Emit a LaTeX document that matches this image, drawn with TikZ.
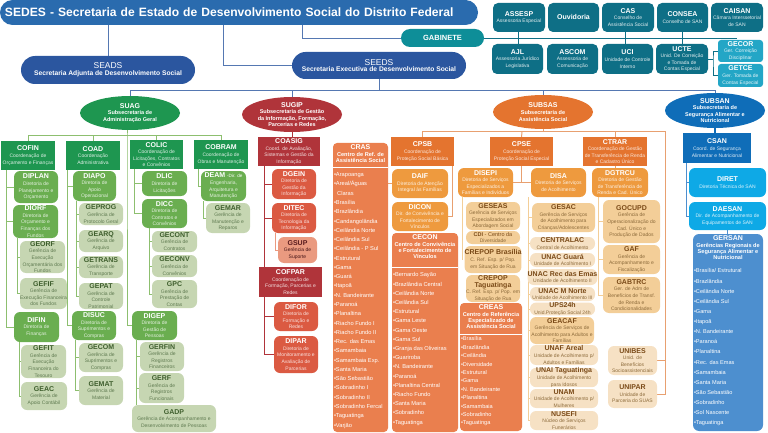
\documentclass[tikz,border=0pt]{standalone}
\usepackage{fontspec}
\setmainfont{Liberation Sans}
\usetikzlibrary{shapes.geometric,backgrounds}
\definecolor{cTitle}{HTML}{2A6BAE}
\definecolor{cSeads}{HTML}{2B569F}
\definecolor{cTeal}{HTML}{0E6F86}
\definecolor{cGab}{HTML}{0E8E98}
\definecolor{cLTeal}{HTML}{23A6C6}
\definecolor{cG1}{HTML}{1E9650}
\definecolor{cG2}{HTML}{6AAE50}
\definecolor{cG3}{HTML}{C6D6B2}
\definecolor{cGt}{HTML}{5F7A50}
\definecolor{cGh}{HTML}{3E5E2D}
\definecolor{cGl}{HTML}{8DBF6F}
\definecolor{cR1}{HTML}{B0343A}
\definecolor{cR2}{HTML}{DB5A42}
\definecolor{cR3}{HTML}{EA9A80}
\definecolor{cO1}{HTML}{E4742F}
\definecolor{cO2}{HTML}{EE9A3E}
\definecolor{cO3}{HTML}{F3CE98}
\definecolor{cO4}{HTML}{F6E1C4}
\definecolor{cOc}{HTML}{EA7F4E}
\definecolor{cOh}{HTML}{7A4A18}
\definecolor{cOt}{HTML}{8C6A3A}
\definecolor{cOl}{HTML}{E8A070}
\definecolor{cB1}{HTML}{0F6DB8}
\definecolor{cB2}{HTML}{0EA9E6}
\definecolor{cB3}{HTML}{4D8FCF}
\tikzset{
  hc/.store in=\hdc, hc=white,
  box/.style={rectangle,inner sep=0pt,outer sep=0pt,align=center,font=\fontsize{5}{6.6}\selectfont,hc=white,text=white},
  pill/.style={box,rounded corners=#1},
  teal/.style={pill=5pt,fill=cTeal,text=white!88!cTeal},
  lteal/.style={pill=3pt,fill=cLTeal,text=white!88!cLTeal},
  gA/.style={box,fill=cG1,text=white!85!cG1},
  gB/.style={pill=6pt,fill=cG2,text=white!82!cG2},
  gC/.style={pill=6pt,fill=cG3,text=cGt,hc=cGh},
  rA/.style={box,fill=cR1,text=white!85!cR1},
  rB/.style={pill=6pt,fill=cR2,text=white!82!cR2},
  rC/.style={pill=6pt,fill=cR3,text=black!60!cR1,hc=black!50!cR1},
  oA/.style={box,fill=cO1,text=white!82!cO1},
  oB/.style={pill=6pt,fill=cO2,text=white!85!cO2},
  oC/.style={pill=6pt,fill=cO3,text=cOt,hc=cOh},
  oD/.style={pill=6pt,fill=cO4,text=cOt,hc=cOh},
  colp/.style={pill=4pt,fill=cOc,text=white},
  bA/.style={box,fill=cB1,text=white!85!cB1},
  bB/.style={pill=6pt,fill=cB2,text=white!85!cB2},
  ell/.style={ellipse,inner sep=0pt,outer sep=0pt,align=center,font=\fontsize{5.5}{6.6}\selectfont\bfseries,hc=white,text=white},
  listtxt/.style={anchor=north west,inner sep=0pt,outer sep=0pt,align=left,text=white},
  lnB/.style={draw=cSeads!80!white,line width=.9pt},
  lnT/.style={draw=cTeal,line width=.9pt},
  lnG/.style={draw=cGl,line width=1pt},
  lnR/.style={draw=cR1,line width=1pt},
  lnO/.style={draw=cOl,line width=1pt},
  lnC/.style={draw=cB3,line width=1pt}
}
\newcommand\hd[1]{{\fontsize{7}{7}\selectfont\bfseries\textcolor{\hdc}{#1}}}
\newcommand\bx[8]{%
  \pgfmathsetmacro\cx{(#3+#5)/2}\pgfmathsetmacro\cy{(#4+#6)/2}%
  \pgfmathsetmacro\bw{#5-#3}\pgfmathsetmacro\bh{#6-#4}%
  \node[#2,minimum width=\bw pt,minimum height=\bh pt] (#1) at (\cx,\cy)
    {\hd{#7}\if\relax\detokenize{#8}\relax\else\\#8\fi};}
% column panel: head text at top
\newcommand\panel[8]{%
  \pgfmathsetmacro\cx{(#3+#5)/2}\pgfmathsetmacro\cy{(#4+#6)/2}%
  \pgfmathsetmacro\bw{#5-#3}\pgfmathsetmacro\bh{#6-#4}%
  \node[#2,minimum width=\bw pt,minimum height=\bh pt] (#1) at (\cx,\cy) {};
  \node[box,anchor=north,font=\fontsize{5.6}{6.3}\selectfont\bfseries,text=white] (#1head) at (\cx,#4+2) {\hd{#7}\\#8};}
\newcommand\trunk[5]{%
  \draw[#1] (#2,0 |- #3.south) -- (#2,0 |- #5.west);
  \foreach \c in {#4} {\draw[#1] (#2,0 |- \c.west) -- (\c.west);}}
\begin{document}
\begin{tikzpicture}[x=1pt,y=-1pt]
\useasboundingbox (0,0) rectangle (768,433);
% top level
\node[pill=12.5pt,fill=cTitle,minimum width=478pt,minimum height=25pt,text width=468pt,align=left,font=\fontsize{12.1}{13}\selectfont\bfseries,text=white] (SEDES) at (239,12.5) {SEDES - Secretaria de Estado de Desenvolvimento Social do Distrito Federal};
\node[pill=14pt,fill=cSeads,minimum width=174pt,minimum height=28pt,text=white] (SEADS) at (108,70) {{\fontsize{8.5}{9}\selectfont SEADS}\\{\fontsize{6.7}{7.5}\selectfont\bfseries Secretaria Adjunta de Desenvolvimento Social}};
\node[pill=13.5pt,fill=cSeads,minimum width=174pt,minimum height=27pt,text=white] (SEEDS) at (379,65.5) {{\fontsize{8.5}{9}\selectfont SEEDS}\\{\fontsize{6.7}{7.5}\selectfont\bfseries Secretaria Executiva de Desenvolvimento Social}};
\node[pill=9pt,fill=cGab,minimum width=83pt,minimum height=18pt,font=\fontsize{7.5}{9}\selectfont\bfseries] (GAB) at (442.5,38) {GABINETE};
\coordinate (mainbar) at (379,90);
% teal
\bx{ASSESP}{teal}{493}{3}{545}{32}{ASSESP}{Assessoria Especial}
\bx{OUV}{teal}{548}{3}{599}{32}{Ouvidoria}{}
\bx{CAS}{teal}{602}{3}{654}{32}{CAS}{Conselho de\\Assistência Social}
\bx{CONSEA}{teal}{657}{3}{708}{32}{CONSEA}{Conselho de SAN}
\bx{CAISAN}{teal}{711}{3}{763}{32}{CAISAN}{Câmara Interssetorial\\de SAN}
\bx{AJL}{teal}{492}{44}{543}{74}{AJL}{Assessoria Jurídico\\Legislativa}
\bx{ASCOM}{teal}{547}{44}{598}{74}{ASCOM}{Assessoria de\\Comunicação}
\bx{UCI}{teal}{602}{44}{653}{74}{UCI}{Unidade de Controle\\Interno}
\bx{UCTE}{teal}{656}{44}{708}{74}{UCTE}{Unid. De Correição\\e Tomada de\\Contas Especial}
\bx{GECOR}{lteal}{718}{40}{763}{62}{GECOR}{Ger. Correição\\Disciplinar}
\bx{GETCE}{lteal}{718}{64}{763}{87}{GETCE}{Ger. Tomada de\\Contas Especial}
% ellipses
\node[ell,fill=cG1,minimum width=100pt,minimum height=34pt] (SUAG) at (130,113) {\hd{SUAG}\\Subsecretaria de\\Administração Geral};
\node[ell,fill=cR1,minimum width=100pt,minimum height=35pt] (SUGIP) at (292,114.5) {\hd{SUGIP}\\Subsecretaria de Gestão\\da Informação, Formação,\\Parcerias e Redes};
\node[ell,fill=cO1,minimum width=100pt,minimum height=34pt] (SUBSAS) at (543,112) {\hd{SUBSAS}\\Subsecretaria de\\Assistência Social};
\node[ell,fill=cB1,minimum width=100pt,minimum height=33pt] (SUBSAN) at (715,110.5) {\hd{SUBSAN}\\Subsecretaria de\\Segurança Alimentar e\\Nutricional};
\coordinate (suagbar) at (127,135.5);
\coordinate (subsasbar) at (522,132);
% green
\bx{COFIN}{gA}{1}{141}{55}{170}{COFIN}{Coordenação de\\Orçamento e Finanças}
\bx{COAD}{gA}{66}{141}{120}{170}{COAD}{Coordenação\\Administrativa}
\bx{COLIC}{gA}{130}{140}{183}{169}{COLIC}{Coordenação de\\Licitações, Contratos\\e Convênios}
\bx{COBRAM}{gA}{194}{140}{248}{169}{COBRAM}{Coordenação de\\Obras e Manutenção}
\bx{DIPLAN}{gB}{14}{171}{58}{203}{DIPLAN}{Diretoria de\\Planejamento e\\Orçamento}
\bx{DIORF}{gB}{13}{205}{58}{238}{DIORF}{Diretoria de\\Orçamento e\\Finanças dos\\Fundos}
\bx{GEORF}{gC}{20}{241}{65}{273}{GEORF}{Gerência de\\Execução\\Orçamentária dos\\Fundos}
\bx{GEFIF}{gC}{21}{278}{66}{309}{GEFIF}{Gerência de\\Execução Financeira\\dos Fundos}
\bx{DIFIN}{gB}{14}{312}{59}{342}{DIFIN}{Diretoria de\\Finanças}
\bx{GEFIT}{gC}{21}{345}{66}{378}{GEFIT}{Gerência de\\Execução\\Financeira do\\Tesouro}
\bx{GEAC}{gC}{21}{382}{67}{410}{GEAC}{Gerência de\\Apoio Contábil}
\bx{DIAPO}{gB}{73}{171}{116}{201}{DIAPO}{Diretoria de\\Apoio\\Operacional}
\bx{GEPROG}{gC}{79}{203}{123}{225}{GEPROG}{Gerência de\\Protocolo Geral}
\bx{GEARQ}{gC}{79}{230}{123}{252}{GEARQ}{Gerência de\\Arquivo}
\bx{GETRANS}{gC}{79}{256}{123}{278}{GETRANS}{Gerência de\\Transporte}
\bx{GEPAT}{gC}{79}{283}{123}{309}{GEPAT}{Gerência de\\Controle\\Patrimonial}
\bx{DISUC}{gB}{72}{311}{116}{340}{DISUC}{Diretoria de\\Suprimentos e\\Compras}
\bx{GECOM}{gC}{79}{343}{123}{372}{GECOM}{Gerência de\\Suprimentos e\\Compras}
\bx{GEMAT}{gC}{79}{376}{123}{405}{GEMAT}{Gerência de\\Material}
\bx{DLIC}{gB}{142}{171}{187}{196}{DLIC}{Diretoria de\\Licitações}
\bx{DICC}{gB}{142}{199}{187}{228}{DICC}{Diretoria de\\Contratos e\\Convênios}
\bx{GECONT}{gC}{152}{231}{197}{252}{GECONT}{Gerência de\\Contratos}
\bx{GECONV}{gC}{152}{255}{197}{277}{GECONV}{Gerência de\\Convênios}
\bx{GPC}{gC}{152}{280}{197}{308}{GPC}{Gerência de\\Prestação de\\Contas}
\bx{DIGEP}{gB}{132}{311}{177}{340}{DIGEP}{Diretoria de\\Gestão de\\Pessoas}
\bx{GERFIN}{gC}{140}{342}{184}{371}{GERFIN}{Gerência de\\Registros\\Financeiros}
\bx{GERF}{gC}{139}{373}{184}{403}{GERF}{Gerência de\\Registros\\Funcionais}
\bx{GADP}{gC}{132}{405}{216}{432}{GADP}{Gerência de Acompanhamento e\\Desenvolvimento de Pessoas}
\bx{DEAM}{gB}{201}{171}{246}{201}{DEAM {\fontsize{4.6}{5}\selectfont\mdseries -Dir. de}}{Engenharia,\\Arquitetura e\\Manutenção}
\bx{GEMAR}{gC}{206}{203}{250}{233}{GEMAR}{Gerência de\\Manutenção e\\Reparos}
% red
\bx{COASIG}{rA}{258}{137}{320}{166}{COASIG}{Coord. de Avaliação,\\Sistemas e Gestão da\\Informação}
\bx{DGEIN}{rB}{272}{169}{316}{199}{DGEIN}{Diretoria de\\Gestão da\\Informação}
\bx{DITEC}{rB}{272}{203}{316}{233}{DITEC}{Diretoria de\\Tecnologia da\\Informação}
\bx{GSUP}{rC}{278}{237}{317}{263}{GSUP}{Gerência de\\Suporte}
\bx{COFPAR}{rA}{259}{267}{322}{297}{COFPAR}{Coordenação de\\Formação, Parcerias e\\Redes}
\bx{DIFOR}{rB}{274}{302}{318}{331}{DIFOR}{Diretoria de\\Formação e\\Redes}
\bx{DIPAR}{rB}{274}{336}{318}{373}{DIPAR}{Diretoria de\\Monitoramento e\\Avaliação de\\Parcerias}
% orange columns
\panel{CRAS}{colp}{333}{143}{388}{432}{CRAS}{Centro de Ref. de\\Assistência Social}
\node[listtxt,font=\fontsize{5.7}{9.27}\selectfont] (CRASlist) at (334,172.8) {•Arapoanga\\•Areal/Águas\\\ \ Claras\\•Brasília\\•Brazlândia\\•Candangolândia\\•Ceilândia Norte\\•Ceilândia Sul\\•Ceilândia - P Sul\\•Estrutural\\•Gama\\•Guará\\•Itapoã\\•N. Bandeirante\\•Paranoá\\•Planaltina\\•Riacho Fundo I\\•Riacho Fundo II\\•Rec. das Emas\\•Samambaia\\•Samambaia Exp.\\•Santa Maria\\•São Sebastião\\•Sobradinho I\\•Sobradinho II\\•Sobradinho Fercal\\•Taguatinga\\•Varjão};
\panel{CECON}{colp}{392}{233}{458}{432}{CECON}{Centro de Convivência\\e Fortalecimento de\\Vínculos}
\node[listtxt,font=\fontsize{5.7}{9.2}\selectfont] (CECONlist) at (393,272.8) {•Bernardo Sayão\\•Brazlândia Central\\•Ceilândia Norte\\•Ceilândia Sul\\•Estrutural\\•Gama Leste\\•Gama Oeste\\•Gama Sul\\•Granja das Oliveiras\\•Guariroba\\•N. Bandeirante\\•Paranoá\\•Planaltina Central\\•Riacho Fundo\\•Santa Maria\\•Sobradinho\\•Taguatinga};
\panel{CREAS}{colp}{460}{303}{522}{431}{CREAS}{Centro de Referência\\Especializado de\\Assistência Social}
\node[listtxt,font=\fontsize{5.6}{8.4}\selectfont] (CREASlist) at (461,336.8) {•Brasília\\•Brazlândia\\•Ceilândia\\•Diversidade\\•Estrutural\\•Gama\\•N. Bandeirante\\•Planaltina\\•Samambaia\\•Sobradinho\\•Taguatinga};
\draw[white,line width=.5pt] (CRAS.west |- 0,167) -- (CRAS.east |- 0,167);
\draw[white,line width=.5pt] (CECON.west |- 0,267) -- (CECON.east |- 0,267);
\draw[white,line width=.5pt] (CREAS.west |- 0,334) -- (CREAS.east |- 0,334);
% orange
\bx{CPSB}{oA}{391}{137}{454}{166}{CPSB}{Coordenação de\\Proteção Social Básica}
\bx{CPSE}{oA}{490}{137}{553}{166}{CPSE}{Coordenação de\\Proteção Social Especial}
\bx{CTRAR}{oA}{583}{137}{647}{166}{CTRAR}{Coordenação de Gestão\\de Transferência de Renda\\e Cadastro Único}
\bx{DAIF}{oB}{392}{169}{448}{198}{DAIF}{Diretoria de Atenção\\Integral às Famílias}
\bx{DICON}{oB}{392}{202}{448}{231}{DICON}{Dir. de Convivência e\\Fortalecimento de\\Vínculos}
\bx{DISEPI}{oB}{458}{168}{513}{197}{DISEPI}{Diretoria de Serviços\\Especializados a\\Famílias e Indivíduos}
\bx{DISA}{oB}{531}{168}{586}{197}{DISA}{Diretoria de Serviços\\de Acolhimento}
\bx{GESEAS}{oC}{466}{202}{520}{230}{GESEAS}{Gerência de Serviços\\Especializados em\\Abordagem Social}
\bx{CDI}{oC}{466}{231}{520}{244}{\fontsize{5.5}{6}\selectfont CDI {\mdseries- Centro da}}{Diversidade}
\bx{CREPB}{oC}{466}{246}{520}{273}{CREPOP Brasília}{C. Ref. Esp. p/ Pop.\\em Situação de Rua}
\bx{CREPT}{oC}{466}{275}{520}{302}{CREPOP}{\hd{Taguatinga}\\C. Ref. Esp. p/ Pop. em\\Situação de Rua}
\bx{GESAC}{oC}{532}{203}{595}{232}{GESAC}{Gerência de Serviços\\de Acolhimento para\\Crianças/Adolescentes}
\bx{CENTRALAC}{oD}{530}{237}{595}{250}{CENTRALAC}{Central de Acolhimento}
\bx{UNACG}{oD}{530}{253}{595}{267}{UNAC Guará}{Unidade de Acolhimento I}
\bx{UNACR}{oD}{530}{269}{595}{285}{UNAC Rec das Emas}{Unidade de Acolhimento II}
\bx{UNACM}{oD}{530}{287}{595}{301}{UNAC M Norte}{Unidade de Acolhimento III}
\bx{UPS}{oD}{530}{303}{595}{315}{UPS24h}{Unid.Proteção Social 24h}
\bx{GEACAF}{oC}{530}{317}{594}{344}{GEACAF}{Gerência de Serviços de\\Acolhimento para Adultos e\\Famílias}
\bx{UNAF}{oD}{530}{345}{598}{365}{UNAF Areal}{Unidade de Acolhimento p/\\Adultos e Famílias}
\bx{UNAI}{oD}{530}{368}{598}{387}{UNAI Taguatinga}{Unidade de Acolhimento\\para Idosos}
\bx{UNAM}{oD}{530}{389}{598}{408}{UNAM}{Unidade de Acolhimento p/\\Mulheres}
\bx{NUSEFI}{oD}{530}{411}{598}{430}{NUSEFI}{Núcleo de Serviços\\Funerários}
\bx{DGTRCU}{oB}{592}{168}{648}{197}{DGTRCU}{Diretoria de Gestão\\de Transferência de\\Renda e Cad. Único}
\bx{GOCUPD}{oC}{603}{200}{660}{243}{GOCUPD}{Gerência de\\Operacionalização do\\Cad. Único e\\Produção de Dados}
\bx{GAF}{oC}{603}{245}{660}{274}{GAF}{Gerência de\\Acompanhamento e\\Fiscalização}
\bx{GABTRC}{oC}{603}{277}{660}{313}{GABTRC}{Ger. de Adm de\\Benefícios de Transf.\\de Renda e\\Condicionalidades}
\bx{UNIBES}{oD}{608}{346}{657}{375}{UNIBES}{Unid. de\\Benefícios\\Socioassistenciais}
\bx{UNIPAR}{oD}{608}{380}{657}{408}{UNIPAR}{Unidade de\\Parceria do SUAS}
% blue
\bx{CSAN}{bA}{683}{133}{751}{163}{CSAN}{Coord. de Segurança\\Alimentar e Nutricional}
\bx{DIRET}{bB}{689}{168}{766}{197}{DIRET}{Diretoria Técnica de SAN}
\bx{DAESAN}{bB}{689}{202}{766}{230}{DAESAN}{Dir. de Acompanhamento de\\Equipamentos de SAN}
\panel{GERSAN}{pill=6pt,fill=cB3}{693}{234}{763}{431}{GERSAN}{Gerências Regionais de\\Segurança Alimentar e\\Nutricional}
\node[listtxt,font=\fontsize{5.6}{10.12}\selectfont] (GERSANlist) at (694,268.8) {•Brasília/ Estrutural\\•Brazlândia\\•Ceilândia Norte\\•Ceilândia Sul\\•Gama\\•Itapoã\\•N. Bandeirante\\•Paranoá\\•Planaltina\\•Rec. das Emas\\•Samambaia\\•Santa Maria\\•São Sebastião\\•Sobradinho\\•Sol Nascente\\•Taguatinga};
% connectors
\begin{scope}[on background layer]
\draw[lnB] (108,0 |- SEDES.south) -- (108,0 |- SEADS.north);
\draw[lnB] (223,0 |- SEDES.south) |- (SEEDS.west);
\draw[lnB] (302,0 |- SEDES.south) |- (GAB.west);
\draw[lnT] (GAB.east) -- (CAISAN.south |- GAB.east);
\draw[lnT] (518,0 |- ASSESP.south) -- (518,0 |- AJL.north);
\draw[lnT] (625,0 |- CAS.south) -- (625,0 |- UCI.north);
\draw[lnT] (682,0 |- CONSEA.south) -- (682,0 |- UCTE.north);
\draw[lnT] (UCTE.east) -- (713,0 |- UCTE.east);
\draw[lnT] (GECOR.west) -| (713,0 |- UCTE.east) |- (GETCE.west);
\draw[lnB] (SEEDS.south) -- (mainbar);
\draw[lnB] (mainbar) -| (SUAG.north);
\draw[lnB] (mainbar) -| (SUGIP.north);
\draw[lnB] (mainbar) -| (SUBSAS.north);
\draw[lnB] (mainbar) -| (SUBSAN.north);
% green
\draw[lnG] (127,0 |- SUAG.south) -- (suagbar) -- (127,0 |- DIGEP.west) -- (DIGEP.west);
\foreach \n in {COFIN,COAD,COLIC,COBRAM} {\draw[lnG] (suagbar) -| (\n.north);}
\trunk{lnG}{6}{COFIN}{DIPLAN,DIORF,DIFIN}{DIFIN}
\trunk{lnG}{17}{DIORF}{GEORF,GEFIF}{GEFIF}
\trunk{lnG}{19}{DIFIN}{GEFIT,GEAC}{GEAC}
\trunk{lnG}{67}{COAD}{DIAPO,DISUC}{DISUC}
\trunk{lnG}{76}{DIAPO}{GEPROG,GEARQ,GETRANS,GEPAT}{GEPAT}
\trunk{lnG}{75}{DISUC}{GECOM,GEMAT}{GEMAT}
\trunk{lnG}{134}{COLIC}{DLIC,DICC}{DICC}
\trunk{lnG}{149}{DICC}{GECONT,GECONV,GPC}{GPC}
\trunk{lnG}{136}{DIGEP}{GERFIN,GERF}{GERF}
\draw[lnG] (136,0 |- GERF.west) -- (136,0 |- GADP.north);
\trunk{lnG}{198}{COBRAM}{DEAM}{DEAM}
\trunk{lnG}{203}{DEAM}{GEMAR}{GEMAR}
% red
\draw[lnR] (SUGIP.south) -- (SUGIP.south |- COASIG.north);
\draw[lnR] (264,0 |- COASIG.south) -- (264,0 |- COFPAR.north);
\foreach \n in {DGEIN,DITEC} {\draw[lnR] (264,0 |- \n.west) -- (\n.west);}
\trunk{lnR}{264}{COFPAR}{DIFOR,DIPAR}{DIPAR}
\trunk{draw=cR3,line width=1pt}{275}{DITEC}{GSUP}{GSUP}
% orange
\draw[lnO] (SUBSAS.south) -- (SUBSAS.south |- subsasbar);
\draw[lnO] (subsasbar) -| (CPSB.north);
\draw[lnO] (subsasbar) -- (CPSE.north);
\draw[lnO] (subsasbar) -| (CTRAR.north);
\draw[lnO] (subsasbar) -| (665,0 |- UNIPAR.east) -- (UNIPAR.east);
\draw[lnO] (665,0 |- UNIBES.east) -- (UNIBES.east);
\draw[lnO] (CRAS.east |- DAIF.west) -- (DAIF.west);
\draw[lnO] (452,0 |- CPSB.south) |- (DICON.east);
\draw[lnO] (CPSE.south) -- (CPSE.south |- DISEPI.east);
\draw[lnO] (DISEPI.east) -- (DISA.west);
\draw[draw=cO3,line width=1pt] (462,0 |- DISEPI.south) -- (462,0 |- CREPB.west);
\trunk{draw=cO3,line width=1pt}{528}{DISA}{GESAC,CENTRALAC,UNACG,UNACR,UNACM,UPS,GEACAF,UNAF,UNAI,UNAM,NUSEFI}{NUSEFI}
\draw[lnO] (CTRAR.south) -- (CTRAR.south |- DGTRCU.north);
\trunk{draw=cO3,line width=1pt}{598}{DGTRCU}{GOCUPD,GAF,GABTRC}{GABTRC}
% blue
\draw[draw=cB1,line width=1.2pt] (SUBSAN.south) -- (SUBSAN.south |- CSAN.north);
\trunk{lnC}{686}{CSAN}{DIRET,DAESAN}{DAESAN}
\draw[lnC] (727,0 |- DAESAN.south) -- (727,0 |- GERSAN.north);
\end{scope}
\end{tikzpicture}
\end{document}
